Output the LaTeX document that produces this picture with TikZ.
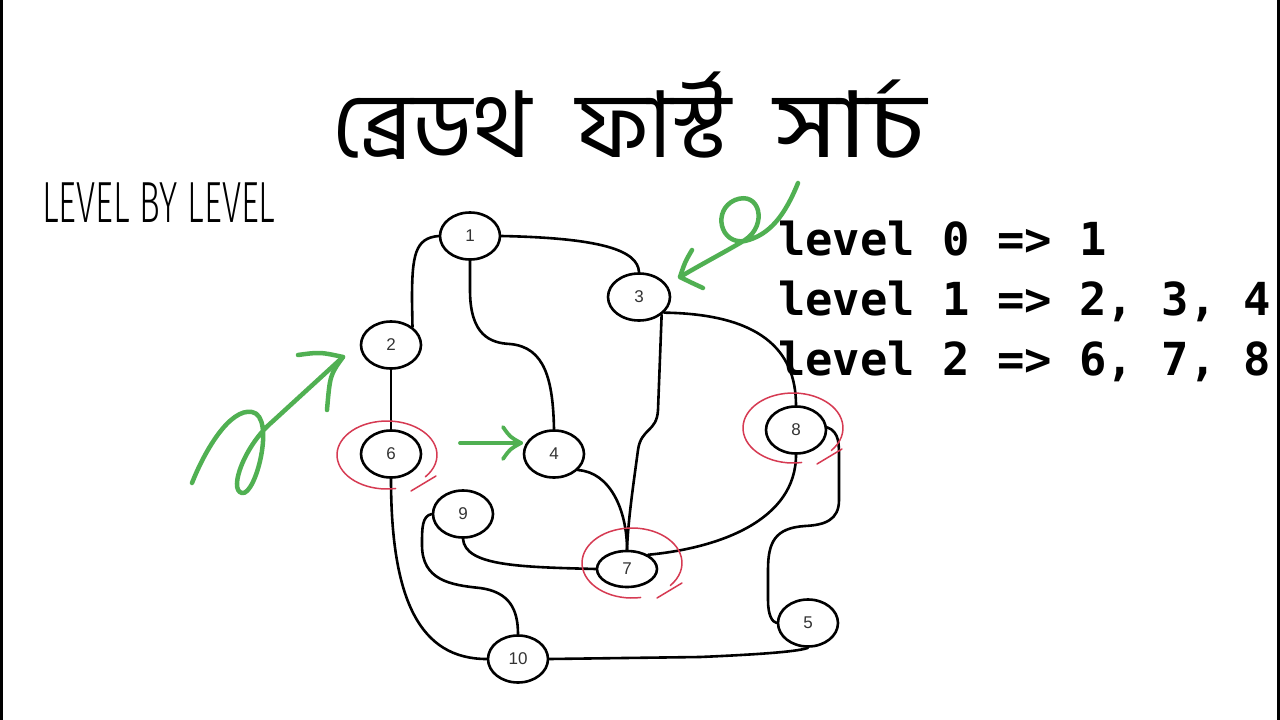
\documentclass[tikz,border=0pt]{standalone}
\usepackage{fontspec}
\setmainfont{Liberation Sans}
\newfontfamily\bnfont[Script=Bengali]{Hind Siliguri}
\newfontfamily\codefont{DejaVu Sans Mono}
\newfontfamily\handfont[FakeStretch=0.6]{Fira Sans Light}
\usetikzlibrary{shapes.geometric}
\definecolor{pengreen}{RGB}{80,176,82}
\definecolor{penred}{RGB}{214,58,82}
\begin{document}
\begin{tikzpicture}[x=1pt,y=-1pt,
  vert/.style={ellipse,draw,line width=2.6pt,minimum width=60pt,minimum height=47pt,inner sep=0pt,
    font=\fontsize{17}{17}\selectfont,text=black!80},
  edge/.style={line width=2.6pt,line cap=round},
  ring/.style={penred,line width=1.5pt,line cap=round},
  pen/.style={pengreen,line width=4.5pt,line cap=round,line join=round},
  title/.style={anchor=base,inner sep=0pt,font=\bnfont\fontsize{92}{92}\selectfont},
  code/.style={anchor=base west,inner sep=0pt,font=\codefont\bfseries\fontsize{45.5}{45.5}\selectfont}]
\path[fill=white] (0,0) rectangle (1280,720);
\useasboundingbox (0,0) rectangle (1280,720);
\fill[black] (0,0) rectangle (3,720);
\fill[black] (1277,0) rectangle (1280,720);

% title
\node[title] (t1) at (432,157) {ব্রেডথ};
\node[title] (t2) at (654,157) {ফার্স্ট};
\node[title,xscale=1.2] (t3) at (850,157) {সার্চ};

\node[anchor=base west,inner sep=0pt,font=\handfont\fontsize{58}{58}\selectfont] (lvl) at (42,222) {LEVEL BY LEVEL};

\node[code] (l0) at (778,255) {level 0 => 1};
\node[code] (l1) at (778,315) {level 1 => 2, 3, 4};
\node[code] (l2) at (778,375) {level 2 => 6, 7, 8};

% vertices
\node[vert] (n1) at (470,236) {1};
\node[vert] (n2) at (391,345) {2};
\node[vert,minimum width=62pt] (n3) at (639,297) {3};
\node[vert] (n4) at (554,454) {4};
\node[vert] (n5) at (808,623) {5};
\node[vert] (n6) at (391,454) {6};
\node[vert,minimum height=36pt] (n7) at (627,569) {7};
\node[vert] (n8) at (796,430) {8};
\node[vert] (n9) at (463,514) {9};
\node[vert] (n10) at (518,659) {10};

% edges
\draw[edge] (n1.180) .. controls (415,238) and (412,255) .. (412,300) -- (n2.40);
\draw[edge] (n1.0) .. controls (600,238) and (638,250) .. (n3.90);
\draw[edge] (n1.-90) -- (470,290) .. controls (470,335) and (490,343) .. (510,344) .. controls (545,347) and (553,380) .. (n4.90);
\draw[edge] (n2.-90) -- (n6.90);
\draw[edge] (n3.-38) -- (658,410) .. controls (657,432) and (641,428) .. (638,450) .. controls (634,480) and (628,520) .. (n7.90);
\draw[edge] (n3.-32) .. controls (760,314) and (796,350) .. (n8.90);
\draw[edge] (n8.-90) .. controls (796,520) and (720,548) .. (n7.34);
\draw[edge] (n8.5) .. controls (840,432) and (839,445) .. (839,462) -- (839,500) .. controls (839,520) and (825,525) .. (805,526) .. controls (775,528) and (768,542) .. (768,570) -- (768,600) .. controls (768,615) and (772,622) .. (n5.180);
\draw[edge] (n4.-34) .. controls (610,472) and (627,510) .. (n7.90);
\draw[edge] (n9.-90) .. controls (465,566) and (520,567) .. (n7.180);
\draw[edge] (n9.180) .. controls (422,516) and (422,528) .. (422,545) .. controls (422,580) and (450,585) .. (480,588) .. controls (510,592) and (518,610) .. (n10.90);
\draw[edge] (n6.-90) .. controls (391,600) and (420,659) .. (n10.180);
\draw[edge] (n10.0) -- (700,657) .. controls (770,654) and (800,651) .. (n5.-90);

% red rings
\coordinate (r6) at (387,455);
\coordinate (r7) at (632,563);
\coordinate (r8) at (793,428);
\draw[ring] (r6) ++(80:50 and 34) arc[start angle=80,end angle=400,x radius=50,y radius=34];
\draw[ring] (411,491) -- (436,476);
\draw[ring] (r7) ++(80:50 and 35) arc[start angle=80,end angle=400,x radius=50,y radius=35];
\draw[ring] (657,598) -- (682,583);
\draw[ring] (r8) ++(80:50 and 35) arc[start angle=80,end angle=400,x radius=50,y radius=35];
\draw[ring] (817,464) -- (842,449);

% green arrows
\coordinate (g4a) at (460,443);
\coordinate (g4b) at (521,443);
\draw[pen,line width=3.8pt] (g4a) -- (g4b);
\draw[pen,line width=3.8pt] (503,427) .. controls (510,437) .. (g4b) .. controls (510,449) .. (503,459);

\coordinate (g2s) at (192,483);
\coordinate (g2t) at (343,357);
\draw[pen] (g2s) .. controls (205,450) and (230,408) .. (252,412) .. controls (276,416) and (256,496) .. (242,493) .. controls (228,490) and (245,445) .. (272,422) -- (g2t);
\draw[pen] (298,355) .. controls (320,352) .. (g2t) .. controls (330,375) .. (327,410);

\coordinate (g3s) at (798,183);
\coordinate (g3t) at (680,277);
\draw[pen] (g3s) .. controls (785,215) and (770,235) .. (745,241) .. controls (720,245) and (712,210) .. (735,200) .. controls (760,190) and (768,225) .. (745,240) .. controls (725,252) and (700,265) .. (g3t);
\draw[pen] (692,250) .. controls (685,262) .. (g3t) .. controls (690,282) .. (703,288);
\end{tikzpicture}
\end{document}
